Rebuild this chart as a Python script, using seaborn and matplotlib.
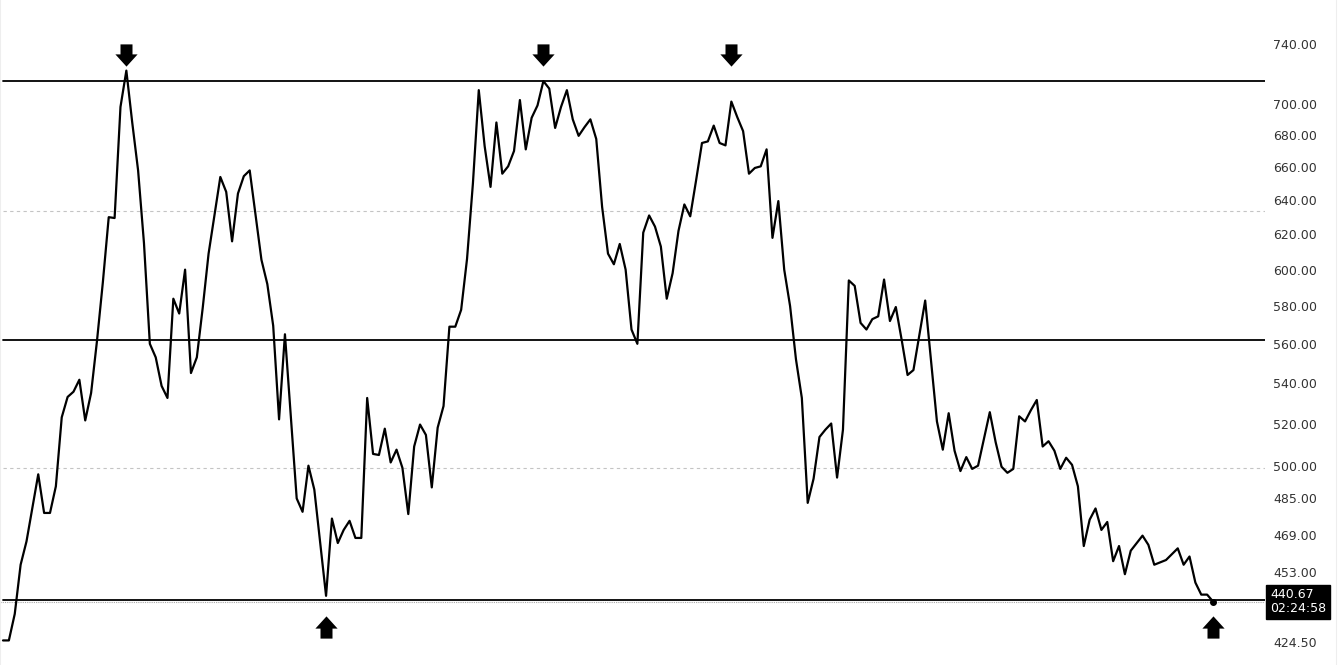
import numpy as np
import pandas as pd
import matplotlib
matplotlib.use("Agg")
import matplotlib.pyplot as plt
import seaborn as sns
from matplotlib.path import Path
from matplotlib.ticker import FixedLocator, NullLocator, NullFormatter, FuncFormatter
import matplotlib.transforms as mtransforms

# ---------------- data ----------------
bars = [0, 1, 2, 3, 4, 6, 7, 8, 9, 10, 11, 12, 13, 14, 15, 16, 17, 18, 19, 20,
        21, 22, 23, 24, 25, 26, 27, 28, 29, 30, 31, 32, 33, 34, 35, 37, 38, 39, 40, 41,
        42, 44, 45, 46, 47, 48, 50, 51, 52, 53, 54, 55, 56, 57, 58, 59, 60, 61, 62, 63,
        64, 65, 66, 67, 68, 69, 70, 71, 72, 73, 74, 75, 76, 77, 78, 79, 80, 81, 82, 83,
        84, 85, 86, 87, 88, 89, 90, 91, 92, 93, 94, 95, 96, 97, 98, 99, 100, 101, 102, 103,
        104, 105, 106, 107, 108, 109, 110, 111, 112, 113, 114, 115, 116, 117, 118, 119, 120, 121, 122, 123,
        124, 125, 126, 127, 128, 129, 130, 131, 132, 133, 134, 135, 136, 137, 138, 139, 140, 141, 142, 143,
        144, 145, 146, 147, 148, 149, 150, 151, 152, 153, 154, 155, 157, 159, 160, 161, 162, 163, 164, 165,
        166, 168, 169, 170, 171, 172, 173, 174, 175, 176, 177, 178, 179, 180, 181, 182, 183, 184, 185, 186,
        187, 188, 189, 190, 191, 192, 194, 195, 196, 198, 200, 201, 202, 203, 204, 205, 206]

price = [425, 425, 435.6, 456, 466, 496, 478.5, 478.5, 490.5, 523, 533, 535.6, 541.6, 521.5, 535, 561.5, 593, 630, 629.5, 698,
         722, 688, 658, 615, 560, 553, 538.5, 532.5, 584, 576, 600, 545, 553, 579, 609, 654, 645, 616, 644, 654.5,
         658, 605.5, 592, 569.5, 522, 565, 485, 479, 500, 489, 465.5, 443, 476, 465.3, 471, 475, 467.5, 467.5, 532.5, 505.5,
         505, 517.5, 501.5, 507.5, 499, 478, 509, 519.5, 514.5, 490, 518, 528.5, 569, 569, 578, 606, 650, 709, 673, 648,
         688, 656, 660.5, 670, 702.5, 671, 691, 699, 715, 710, 684.5, 698, 709, 690, 679.5, 685, 690, 677.5, 636, 609,
         603, 614.5, 600, 567.5, 560, 621, 631, 624.5, 613, 584, 598, 622, 637.5, 630.5, 652, 675, 676, 686, 675, 673.5,
         701.5, 691.5, 682.5, 656, 659.5, 660.5, 671, 618, 639.5, 600, 580, 552, 532.5, 483, 494, 513.5, 517, 520, 494.5, 517,
         594, 591, 571, 567.5, 573, 574.5, 594.5, 572, 579.5, 562, 544, 546.5, 583, 521, 507.5, 525, 507, 497.5, 504, 498.5,
         500, 525.5, 511, 499.5, 496.7, 498.5, 523.5, 521, 526.5, 531.5, 509, 511.5, 507, 498.5, 503.7, 500.4, 490.5, 464, 475.5, 480.5,
         471, 474.5, 457.5, 464, 452, 462, 468.5, 464.5, 456, 458, 463, 456, 459.5, 448.5, 443.5, 443.5, 440.67]

tick_values = [740, 700, 680, 660, 640, 620, 600, 580, 560, 540, 520, 500, 485, 469, 453, 424.5]
resistance_levels = [715.0, 562.0, 441.3]
dashed_levels = [633.8, 499.0]
last_price = 440.67
last_label = "440.67\n02:24:58"
top_marks = [21, 92, 124]       # bars with a down arrow above
bottom_marks = [55, 206]        # bars with an up arrow below

df = pd.DataFrame({"bar": bars, "price": price})

# ---------------- figure ----------------
sns.set_style("white")
plt.rcParams['font.family'] = ['DejaVu Sans']

W, H = 1340, 665
fig = plt.figure(figsize=(W / 100, H / 100), dpi=100)
ax = fig.add_axes([0, 0, 1265 / W, 1])

sns.lineplot(data=df, x="bar", y="price", ax=ax, color="black", linewidth=1.6,
             estimator=None, sort=False)

ax.set_yscale("log")
ax.set_ylim(415.4, 771.0)
step = 1210 / 206
ax.set_xlim(-3 / step, 1262 / step)

# levels
for lv in resistance_levels:
    ax.axhline(lv, xmin=0.002, xmax=1, color="black", linewidth=1.3, zorder=1)
for lv in dashed_levels:
    ax.axhline(lv, xmin=0.002, xmax=1, color="#c4c4c4", linewidth=0.8,
               linestyle=(0, (3, 3)), zorder=1)
ax.axhline(last_price, color="#a8a8a8", linewidth=0.8, linestyle=(0, (1, 1)), zorder=1)

# last point dot
ax.plot([bars[-1]], [price[-1]], marker="o", color="black", markersize=4, zorder=5)

# arrow markers
hw = 0.27
down_arrow = Path([(-hw, 0.5), (hw, 0.5), (hw, 0.05), (0.5, 0.05), (0.0, -0.5),
                   (-0.5, 0.05), (-hw, 0.05), (-hw, 0.5)],
                  [Path.MOVETO] + [Path.LINETO] * 6 + [Path.CLOSEPOLY])
up_arrow = Path([(-hw, -0.5), (hw, -0.5), (hw, -0.05), (0.5, -0.05), (0.0, 0.5),
                 (-0.5, -0.05), (-hw, -0.05), (-hw, -0.5)],
                [Path.MOVETO] + [Path.LINETO] * 6 + [Path.CLOSEPOLY])
xtr = ax.get_xaxis_transform()
ax.scatter(top_marks, [1 - 55 / H] * len(top_marks), marker=down_arrow, s=16 ** 2,
           color="black", transform=xtr, zorder=6, linewidths=0)
ax.scatter(bottom_marks, [1 - 627 / H] * len(bottom_marks), marker=up_arrow, s=16 ** 2,
           color="black", transform=xtr, zorder=6, linewidths=0, clip_on=False)

# y axis on the right
ax.yaxis.tick_right()
ax.yaxis.set_major_locator(FixedLocator(tick_values))
ax.yaxis.set_major_formatter(FuncFormatter(lambda v, p: f"{v:.2f}"))
ax.yaxis.set_minor_locator(NullLocator())
ax.yaxis.set_minor_formatter(NullFormatter())
ax.tick_params(axis="y", length=0, pad=6, labelsize=9, labelcolor="#333333")
ax.set_xticks([])
ax.set_xlabel("")
ax.set_ylabel("")
ax.grid(False)

for side in ["top", "right", "bottom"]:
    ax.spines[side].set_visible(False)
ax.spines["left"].set_color("#eeeeee")
ax.spines["left"].set_linewidth(0.8)

# last price label box
btr = mtransforms.blended_transform_factory(ax.transAxes, ax.transData)
ax.text(1.0 + 5 / 1265, last_price, last_label, transform=btr, ha="left", va="center",
        color="white", fontsize=9, linespacing=1.05, zorder=10,
        bbox=dict(boxstyle="square,pad=0.3", facecolor="black", edgecolor="black"))

# thin border on the right edge of the price scale
fig.add_artist(plt.Line2D([1336 / W, 1336 / W], [0, 1], color="#eeeeee", linewidth=0.8))

fig.savefig("out.png", dpi=100)
